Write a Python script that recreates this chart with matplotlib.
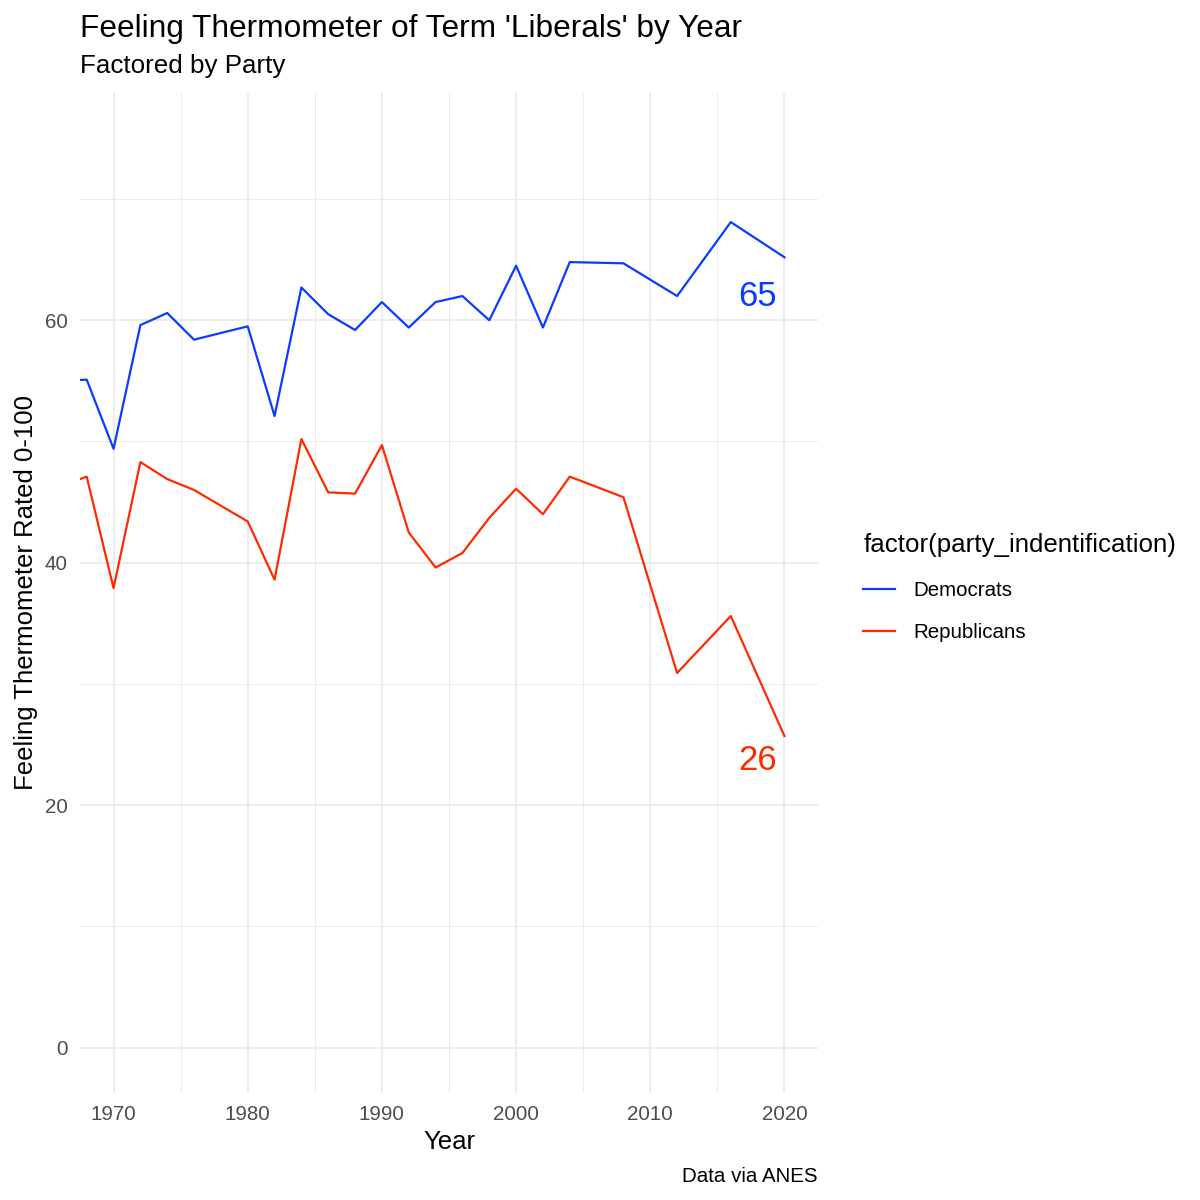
import matplotlib
matplotlib.use("Agg")
import matplotlib.pyplot as plt
from matplotlib.ticker import MultipleLocator

# ---------------------------------------------------------------------------
# Data
# ---------------------------------------------------------------------------
years = [1966, 1968, 1970, 1972, 1974, 1976, 1980, 1982, 1984, 1986, 1988,
         1990, 1992, 1994, 1996, 1998, 2000, 2002, 2004, 2008, 2012, 2016, 2020]
democrats = [55.0, 55.1, 49.4, 59.6, 60.6, 58.4, 59.5, 52.1, 62.7, 60.5, 59.2,
             61.5, 59.4, 61.5, 62.0, 60.0, 64.5, 59.4, 64.8, 64.7, 62.0, 68.1, 65.2]
republicans = [46.3, 47.1, 37.9, 48.3, 46.9, 46.0, 43.4, 38.6, 50.2, 45.8, 45.7,
               49.7, 42.5, 39.6, 40.8, 43.7, 46.1, 44.0, 47.1, 45.4, 30.9, 35.6, 25.7]
party_labels = ["Democrats", "Republicans"]
end_labels = ["65", "26"]
end_label_pos = [(2018, 62.0), (2018, 23.7)]

BLUE = "#0A3CFF"
RED = "#FF2A00"
GRID = "#EBEBEB"
TICK = "#4D4D4D"
FONT = "Liberation Sans"

plt.rcParams.update({
    "font.family": FONT,
    "figure.facecolor": "white",
    "axes.facecolor": "white",
})

fig = plt.figure(figsize=(12, 12), dpi=100)
ax = fig.add_axes([80 / 1200, 1 - 1093 / 1200, 738 / 1200, 1000 / 1200])

ax.plot(years, democrats, color=BLUE, lw=1.6, label=party_labels[0], zorder=3)
ax.plot(years, republicans, color=RED, lw=1.6, label=party_labels[1], zorder=3)

for (x, y), txt, col in zip(end_label_pos, end_labels, [BLUE, RED]):
    ax.text(x, y, txt, color=col, fontsize=25, ha="center", va="center", zorder=4)

ax.set_xlim(1967.5, 2022.5)
ax.set_ylim(-3.75, 78.75)
ax.xaxis.set_major_locator(MultipleLocator(10))
ax.xaxis.set_minor_locator(MultipleLocator(5))
ax.yaxis.set_major_locator(MultipleLocator(20))
ax.yaxis.set_minor_locator(MultipleLocator(10))
ax.set_yticks([0, 20, 40, 60])
ax.grid(which="major", color=GRID, lw=1.3, zorder=0)
ax.grid(which="minor", color=GRID, lw=0.7, zorder=0)
ax.set_axisbelow(True)
for s in ax.spines.values():
    s.set_visible(False)
ax.tick_params(which="both", length=0, colors=TICK, labelsize=14.8)
ax.tick_params(axis="y", pad=9)
ax.tick_params(axis="x", pad=9)

ax.set_xlabel("Year", fontsize=18.5, labelpad=4)
ax.set_ylabel("Feeling Thermometer Rated 0-100", fontsize=18.5, labelpad=5)

fig.text(80 / 1200, 1 - 37 / 1200, "Feeling Thermometer of Term 'Liberals' by Year",
         fontsize=22.8, ha="left", va="baseline")
fig.text(80 / 1200, 1 - 73 / 1200, "Factored by Party",
         fontsize=18.7, ha="left", va="baseline")
fig.text(818 / 1200, 1 - 1177 / 1200, "Data via ANES",
         fontsize=14.8, ha="right", va="center")

leg = ax.legend(loc="upper left", bbox_to_anchor=(855 / 1200, 1 - 525 / 1200),
                bbox_transform=fig.transFigure, frameon=False,
                title="factor(party_indentification)", title_fontsize=18.6,
                fontsize=14.8, handlelength=1.55, handletextpad=0.9,
                labelspacing=1.15, borderaxespad=0)
leg._legend_box.align = "left"

fig.savefig("out.png", dpi=100)
